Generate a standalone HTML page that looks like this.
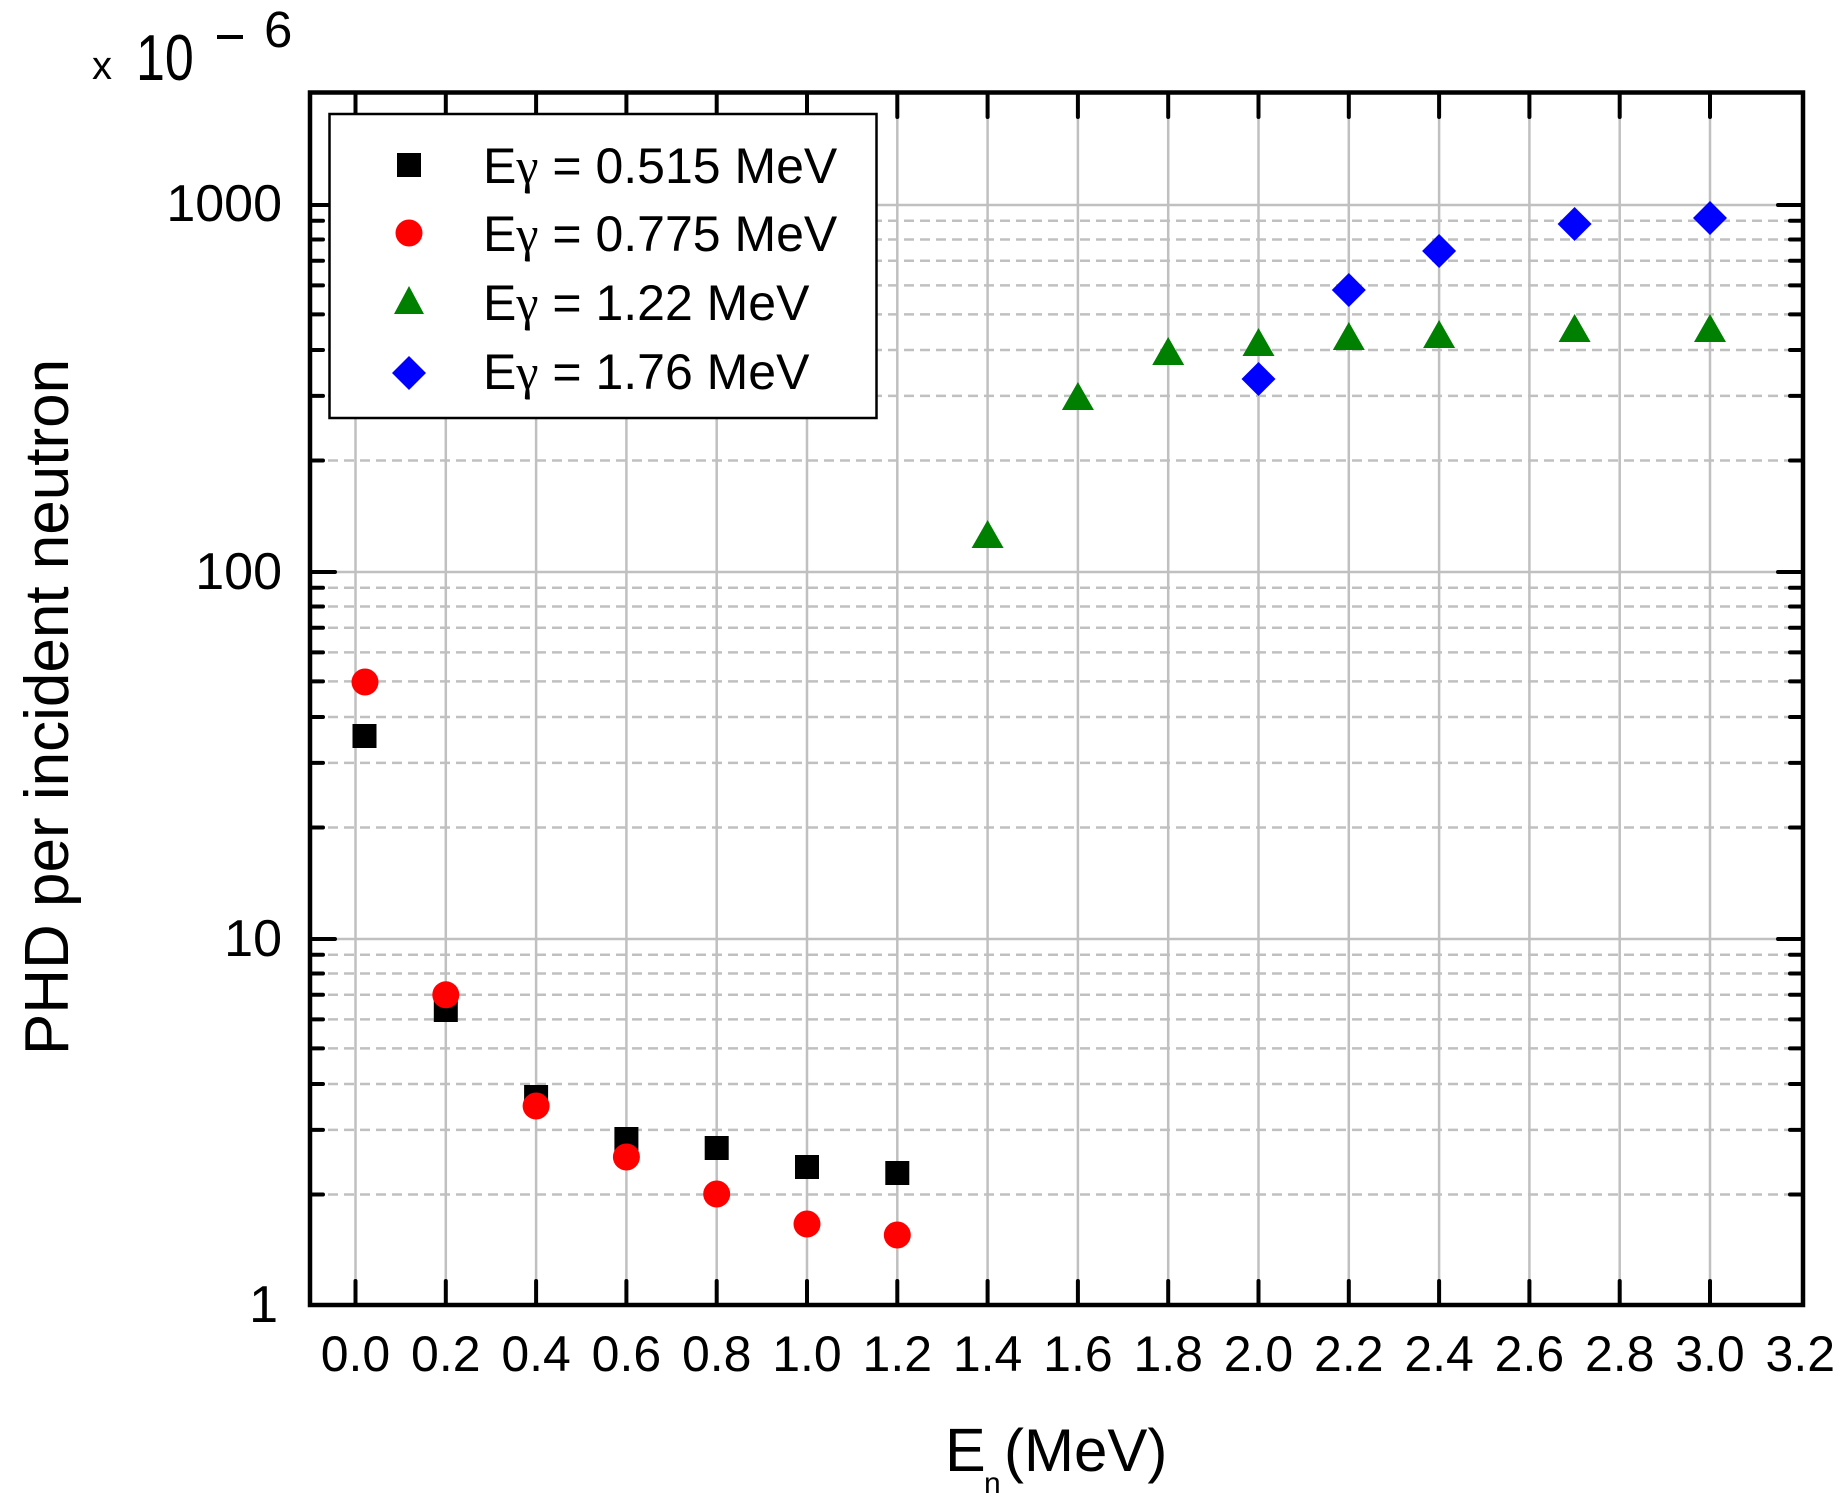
<!DOCTYPE html>
<html><head><meta charset="utf-8"><style>html,body{margin:0;padding:0;background:#fff}svg{display:block}</style></head>
<body>
<svg width="1844" height="1509" viewBox="0 0 1844 1509" xmlns="http://www.w3.org/2000/svg" font-family="'Liberation Sans', Arial, sans-serif">
<rect width="1844" height="1509" fill="#fff"/>
<g stroke="#c0c0c0" stroke-width="2.5" stroke-dasharray="10,6">
<line x1="312" x2="1802" y1="1194.5" y2="1194.5"/><line x1="312" x2="1802" y1="1129.9" y2="1129.9"/><line x1="312" x2="1802" y1="1084.0" y2="1084.0"/><line x1="312" x2="1802" y1="1048.4" y2="1048.4"/><line x1="312" x2="1802" y1="1019.4" y2="1019.4"/><line x1="312" x2="1802" y1="994.8" y2="994.8"/><line x1="312" x2="1802" y1="973.5" y2="973.5"/><line x1="312" x2="1802" y1="954.8" y2="954.8"/>
<line x1="312" x2="1802" y1="827.5" y2="827.5"/><line x1="312" x2="1802" y1="762.9" y2="762.9"/><line x1="312" x2="1802" y1="717.0" y2="717.0"/><line x1="312" x2="1802" y1="681.4" y2="681.4"/><line x1="312" x2="1802" y1="652.4" y2="652.4"/><line x1="312" x2="1802" y1="627.8" y2="627.8"/><line x1="312" x2="1802" y1="606.5" y2="606.5"/><line x1="312" x2="1802" y1="587.8" y2="587.8"/>
<line x1="312" x2="1802" y1="460.5" y2="460.5"/><line x1="312" x2="1802" y1="395.9" y2="395.9"/><line x1="312" x2="1802" y1="350.0" y2="350.0"/><line x1="312" x2="1802" y1="314.4" y2="314.4"/><line x1="312" x2="1802" y1="285.4" y2="285.4"/><line x1="312" x2="1802" y1="260.8" y2="260.8"/><line x1="312" x2="1802" y1="239.5" y2="239.5"/><line x1="312" x2="1802" y1="220.8" y2="220.8"/>
</g>
<g stroke="#c0c0c0" stroke-width="2.5">
<line x1="312" x2="1802" y1="939" y2="939"/><line x1="312" x2="1802" y1="572" y2="572"/><line x1="312" x2="1802" y1="205" y2="205"/>
<line x1="355.5" x2="355.5" y1="93" y2="1305"/><line x1="445.8" x2="445.8" y1="93" y2="1305"/><line x1="536.1" x2="536.1" y1="93" y2="1305"/><line x1="626.4" x2="626.4" y1="93" y2="1305"/><line x1="716.7" x2="716.7" y1="93" y2="1305"/><line x1="807" x2="807" y1="93" y2="1305"/><line x1="897.3" x2="897.3" y1="93" y2="1305"/><line x1="987.6" x2="987.6" y1="93" y2="1305"/><line x1="1077.9" x2="1077.9" y1="93" y2="1305"/><line x1="1168.2" x2="1168.2" y1="93" y2="1305"/><line x1="1258.5" x2="1258.5" y1="93" y2="1305"/><line x1="1348.8" x2="1348.8" y1="93" y2="1305"/><line x1="1439.1" x2="1439.1" y1="93" y2="1305"/><line x1="1529.4" x2="1529.4" y1="93" y2="1305"/><line x1="1619.7" x2="1619.7" y1="93" y2="1305"/><line x1="1710" x2="1710" y1="93" y2="1305"/>
</g>
<g stroke="#000" stroke-width="4" stroke-linecap="round">
<path d="M355.5 1305v-24M445.8 1305v-24M536.1 1305v-24M626.4 1305v-24M716.7 1305v-24M807 1305v-24M897.3 1305v-24M987.6 1305v-24M1077.9 1305v-24M1168.2 1305v-24M1258.5 1305v-24M1348.8 1305v-24M1439.1 1305v-24M1529.4 1305v-24M1619.7 1305v-24M1710 1305v-24"/>
<path d="M355.5 93v24M445.8 93v24M536.1 93v24M626.4 93v24M716.7 93v24M807 93v24M897.3 93v24M987.6 93v24M1077.9 93v24M1168.2 93v24M1258.5 93v24M1348.8 93v24M1439.1 93v24M1529.4 93v24M1619.7 93v24M1710 93v24"/>
<path d="M310 939h25M310 572h25M310 205h25"/>
<path d="M1803 939h-25M1803 572h-25M1803 205h-25"/>
<path d="M310 1194.5h13M310 1129.9h13M310 1084h13M310 1048.4h13M310 1019.4h13M310 994.8h13M310 973.5h13M310 954.8h13M310 827.5h13M310 762.9h13M310 717h13M310 681.4h13M310 652.4h13M310 627.8h13M310 606.5h13M310 587.8h13M310 460.5h13M310 395.9h13M310 350h13M310 314.4h13M310 285.4h13M310 260.8h13M310 239.5h13M310 220.8h13"/>
<path d="M1803 1194.5h-13M1803 1129.9h-13M1803 1084h-13M1803 1048.4h-13M1803 1019.4h-13M1803 994.8h-13M1803 973.5h-13M1803 954.8h-13M1803 827.5h-13M1803 762.9h-13M1803 717h-13M1803 681.4h-13M1803 652.4h-13M1803 627.8h-13M1803 606.5h-13M1803 587.8h-13M1803 460.5h-13M1803 395.9h-13M1803 350h-13M1803 314.4h-13M1803 285.4h-13M1803 260.8h-13M1803 239.5h-13M1803 220.8h-13"/>
</g>
<rect x="310" y="92.5" width="1493" height="1212.5" fill="none" stroke="#000" stroke-width="4.5"/>
<rect x="329.5" y="114" width="547" height="304" fill="#fff" stroke="#000" stroke-width="2.5"/>
<rect x="397" y="153" width="24" height="24" fill="#000"/>
<circle cx="409" cy="233" r="13.5" fill="#f00"/>
<polygon points="409,286 424,314 394,314" fill="#008000"/>
<polygon points="409,356 426,373 409,390 392,373" fill="#00f"/>
<g font-size="50" fill="#000">
<text x="483" y="183">E<tspan font-family="'Liberation Serif', serif">γ</tspan> = 0.515 MeV</text>
<text x="483" y="251">E<tspan font-family="'Liberation Serif', serif">γ</tspan> = 0.775 MeV</text>
<text x="483" y="320">E<tspan font-family="'Liberation Serif', serif">γ</tspan> = 1.22 MeV</text>
<text x="483" y="389">E<tspan font-family="'Liberation Serif', serif">γ</tspan> = 1.76 MeV</text>
</g>
<g fill="#000">
<rect x="352.5" y="724" width="24" height="24"/>
<rect x="433.8" y="998" width="24" height="24"/>
<rect x="524.1" y="1085" width="24" height="24"/>
<rect x="614.4" y="1127" width="24" height="24"/>
<rect x="704.7" y="1136" width="24" height="24"/>
<rect x="795" y="1155" width="24" height="24"/>
<rect x="885.3" y="1161" width="24" height="24"/>
</g>
<g fill="#f00">
<circle cx="365" cy="682" r="13.5"/>
<circle cx="445.8" cy="994.8" r="13.5"/>
<circle cx="536.1" cy="1106" r="13.5"/>
<circle cx="626.4" cy="1157" r="13.5"/>
<circle cx="716.7" cy="1194" r="13.5"/>
<circle cx="807" cy="1224" r="13.5"/>
<circle cx="897.3" cy="1235" r="13.5"/>
</g>
<g fill="#008000">
<polygon points="987.6,520 1003.6,548 971.6,548"/>
<polygon points="1077.9,382 1093.9,410 1061.9,410"/>
<polygon points="1168.2,337 1184.2,365 1152.2,365"/>
<polygon points="1258.5,328 1274.5,356 1242.5,356"/>
<polygon points="1348.8,322 1364.8,350 1332.8,350"/>
<polygon points="1439.1,320 1455.1,348 1423.1,348"/>
<polygon points="1574.6,314 1590.6,342 1558.6,342"/>
<polygon points="1710,314 1726,342 1694,342"/>
</g>
<g fill="#00f">
<polygon points="1258.5,362 1275.5,379 1258.5,396 1241.5,379"/>
<polygon points="1348.8,273 1365.8,290 1348.8,307 1331.8,290"/>
<polygon points="1439.1,234 1456.1,251 1439.1,268 1422.1,251"/>
<polygon points="1574.6,207 1591.6,224 1574.6,241 1557.6,224"/>
<polygon points="1710,201 1727,218 1710,235 1693,218"/>
</g>
<g font-size="52" text-anchor="end" fill="#000">
<text x="282" y="221">1000</text>
<text x="282" y="589">100</text>
<text x="282" y="956">10</text>
<text x="278" y="1322">1</text>
</g>
<g font-size="50" text-anchor="middle" fill="#000">
<text x="355.5" y="1371">0.0</text><text x="445.8" y="1371">0.2</text><text x="536.1" y="1371">0.4</text><text x="626.4" y="1371">0.6</text><text x="716.7" y="1371">0.8</text><text x="807" y="1371">1.0</text><text x="897.3" y="1371">1.2</text><text x="987.6" y="1371">1.4</text><text x="1077.9" y="1371">1.6</text><text x="1168.2" y="1371">1.8</text><text x="1258.5" y="1371">2.0</text><text x="1348.8" y="1371">2.2</text><text x="1439.1" y="1371">2.4</text><text x="1529.4" y="1371">2.6</text><text x="1619.7" y="1371">2.8</text><text x="1710" y="1371">3.0</text><text x="1800.3" y="1371">3.2</text>
</g>
<text x="945" y="1471" font-size="61" fill="#000">E</text>
<text x="984" y="1493" font-size="30" fill="#000">n</text>
<text x="1004" y="1471" font-size="60" fill="#000">(MeV)</text>
<text transform="translate(68,707) rotate(-90)" font-size="62" text-anchor="middle" fill="#000">PHD per incident neutron</text>
<text x="92" y="79" font-size="40" fill="#000">x</text>
<text transform="translate(136,80) scale(0.8,1)" font-size="65" fill="#000">10</text>
<rect x="217" y="35" width="26" height="4" fill="#000"/>
<text x="264" y="47" font-size="51" fill="#000">6</text>
</svg>
</body></html>
